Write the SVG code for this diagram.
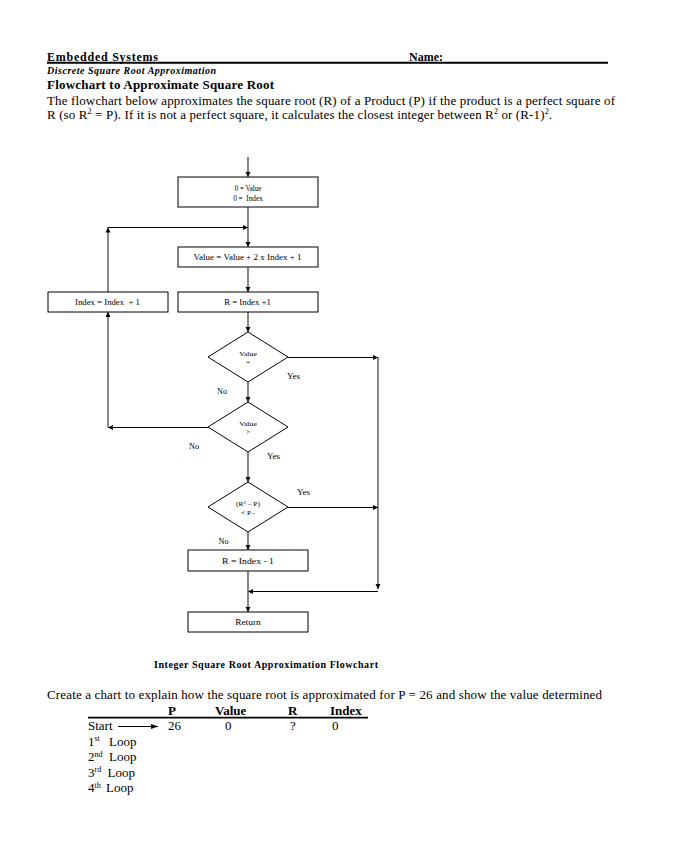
<svg xmlns="http://www.w3.org/2000/svg" width="681" height="851" viewBox="0 0 681 851">
<defs>
<style>
text{font-family:"Liberation Serif","Times New Roman",serif;fill:#000}
.b12{font-size:12px;font-weight:bold}
.t13{font-size:13px}
.b13{font-size:13px;font-weight:bold}
.bx{font-size:7.5px;text-anchor:middle}
.dm{font-size:6.5px;text-anchor:middle}
.lb{font-size:8px}
.box{fill:#fff;stroke:#000;stroke-width:1}
.cn{fill:none;stroke:#000;stroke-width:1}
.vc{fill:none;stroke:#555;stroke-width:1.4}
</style>
<marker id="ah" markerUnits="userSpaceOnUse" markerWidth="6" markerHeight="6" refX="5" refY="2.5" orient="auto">
<path d="M0,0 L5,2.5 L0,5 z" fill="#000"/>
</marker>
<marker id="ah2" markerUnits="userSpaceOnUse" markerWidth="8" markerHeight="6" refX="7" refY="2.5" orient="auto">
<path d="M0,0 L7,2.5 L0,5 z" fill="#000"/>
</marker>
</defs>
<rect width="681" height="851" fill="#fff"/>

<g id="header">
<text x="47" y="60.5" class="b12" textLength="111">Embedded Systems</text>
<text x="409" y="60.5" class="b12">Name:</text>
<line x1="47" y1="62.8" x2="608" y2="62.8" stroke="#000" stroke-width="2"/>
<text x="47" y="73.8" style="font-size:10px;font-weight:bold;font-style:italic" textLength="169">Discrete Square Root Approximation</text>
<text x="47" y="88.5" class="b13" textLength="227">Flowchart to Approximate Square Root</text>
<text x="47" y="104.5" class="t13" textLength="568">The flowchart below approximates the square root (R) of a Product (P) if the product is a perfect square of</text>
<text x="47" y="118.5" class="t13" textLength="505">R (so R<tspan dy="-5" font-size="8">2</tspan><tspan dy="5"> = P). If it is not a perfect square, it calculates the closest integer between R</tspan><tspan dy="-5" font-size="8">2</tspan><tspan dy="5"> or (R-1)</tspan><tspan dy="-5" font-size="8">2</tspan><tspan dy="5">.</tspan></text>
</g>

<g id="connectors">
<line class="vc" x1="248" y1="157" x2="248" y2="177" marker-end="url(#ah)"/>
<line class="vc" x1="248" y1="207" x2="248" y2="247" marker-end="url(#ah)"/>
<line class="vc" x1="108" y1="292" x2="108" y2="227.5" marker-end="url(#ah)"/>
<line class="cn" x1="108" y1="227.5" x2="248" y2="227.5" marker-end="url(#ah)"/>
<line class="vc" x1="248" y1="267" x2="248" y2="292" marker-end="url(#ah)"/>
<line class="vc" x1="248" y1="312" x2="248" y2="332" marker-end="url(#ah)"/>
<line class="cn" x1="288" y1="357.5" x2="378" y2="357.5" marker-end="url(#ah)"/>
<line class="vc" x1="378" y1="357" x2="378" y2="589" marker-end="url(#ah)"/>
<line class="cn" x1="378" y1="591.5" x2="248" y2="591.5" marker-end="url(#ah)"/>
<line class="vc" x1="248" y1="382" x2="248" y2="402" marker-end="url(#ah)"/>
<line class="cn" x1="208" y1="427.5" x2="108" y2="427.5" marker-end="url(#ah)"/>
<line class="vc" x1="108" y1="427" x2="108" y2="312" marker-end="url(#ah)"/>
<line class="vc" x1="248" y1="452" x2="248" y2="482" marker-end="url(#ah)"/>
<line class="cn" x1="288" y1="507.5" x2="378" y2="507.5" marker-end="url(#ah)"/>
<line class="vc" x1="248" y1="532" x2="248" y2="550" marker-end="url(#ah)"/>
<line class="vc" x1="248" y1="571" x2="248" y2="612" marker-end="url(#ah)"/>
</g>

<g id="labels">
<text x="287" y="378.5" class="lb" textLength="13" lengthAdjust="spacingAndGlyphs">Yes</text>
<text x="217" y="394" class="lb" textLength="10" lengthAdjust="spacingAndGlyphs">No</text>
<text x="189" y="448.5" class="lb" textLength="10" lengthAdjust="spacingAndGlyphs">No</text>
<text x="267" y="458.5" class="lb" textLength="13" lengthAdjust="spacingAndGlyphs">Yes</text>
<text x="297" y="495" class="lb" textLength="13" lengthAdjust="spacingAndGlyphs">Yes</text>
<text x="218.5" y="543.5" class="lb" textLength="10" lengthAdjust="spacingAndGlyphs">No</text>
</g>

<g id="n-init">
<rect class="box" x="178" y="177" width="140" height="30"/>
<text x="248" y="191" class="bx" textLength="26.7" lengthAdjust="spacingAndGlyphs">0 = Value</text>
<text x="248" y="201" class="bx" textLength="29.7" lengthAdjust="spacingAndGlyphs" xml:space="preserve">0 =  Index</text>
</g>
<g id="n-value">
<rect class="box" x="178" y="247" width="140" height="20"/>
<text x="247.5" y="259.6" class="bx" textLength="108" lengthAdjust="spacingAndGlyphs">Value = Value + 2 x Index + 1</text>
</g>
<g id="n-index">
<rect class="box" x="48" y="292" width="120" height="20"/>
<text x="107.5" y="304.7" class="bx" textLength="65" lengthAdjust="spacingAndGlyphs" xml:space="preserve">Index = Index  + 1</text>
</g>
<g id="n-r1">
<rect class="box" x="178" y="292" width="140" height="20"/>
<text x="247.5" y="304.7" class="bx" textLength="46.7" lengthAdjust="spacingAndGlyphs">R = Index +1</text>
</g>
<g id="n-d1">
<polygon class="box" points="248,332 288,357 248,382 208,357"/>
<text x="248" y="355.5" class="dm" textLength="17.7" lengthAdjust="spacingAndGlyphs">Value</text>
<text x="248" y="364" class="dm">=</text>
</g>
<g id="n-d2">
<polygon class="box" points="248,402 288,427 248,452 208,427"/>
<text x="248" y="425.5" class="dm" textLength="17.7" lengthAdjust="spacingAndGlyphs">Value</text>
<text x="248" y="434" class="dm">&gt;</text>
</g>
<g id="n-d3">
<polygon class="box" points="248,482 288,507 248,532 208,507"/>
<text x="248" y="506" class="dm" style="font-size:6px" textLength="24" lengthAdjust="spacingAndGlyphs">(R<tspan dy="-2.5" font-size="4">2</tspan><tspan dy="2.5"> – P)</tspan></text>
<text x="248" y="515" class="dm" style="font-size:6px" textLength="14" lengthAdjust="spacingAndGlyphs">&lt; P -</text>
</g>
<g id="n-r2">
<rect class="box" x="188" y="550" width="120" height="21"/>
<text x="248" y="563.5" class="bx" textLength="52" lengthAdjust="spacingAndGlyphs">R = Index - 1</text>
</g>
<g id="n-return">
<rect class="box" x="188" y="612" width="120" height="20"/>
<text x="248" y="624.8" class="bx" textLength="25.7" lengthAdjust="spacingAndGlyphs">Return</text>
</g>

<g id="bottom">
<text x="154" y="668" style="font-size:10px;font-weight:bold" textLength="224">Integer Square Root Approximation Flowchart</text>
<text x="47" y="699" class="t13" textLength="555">Create a chart to explain how the square root is approximated for P = 26 and show the value determined</text>
<text x="168" y="714.5" class="b13">P</text>
<text x="215" y="714.5" class="b13">Value</text>
<text x="288" y="714.5" class="b13">R</text>
<text x="330" y="714.5" class="b13">Index</text>
<line x1="88" y1="717.6" x2="368" y2="717.6" stroke="#000" stroke-width="1.8"/>
<text x="88" y="730" class="t13">Start</text>
<line x1="118" y1="726.5" x2="158" y2="726.5" stroke="#000" stroke-width="1" marker-end="url(#ah2)"/>
<text x="168" y="730" class="t13">26</text>
<text x="225" y="730" class="t13">0</text>
<text x="290" y="730" class="t13">?</text>
<text x="332" y="730" class="t13">0</text>
<text x="88" y="745.5" class="t13">1<tspan dy="-4.5" font-size="8">st</tspan><tspan x="109" dy="4.5">Loop</tspan></text>
<text x="88" y="761" class="t13">2<tspan dy="-4.5" font-size="8">nd</tspan><tspan x="109" dy="4.5">Loop</tspan></text>
<text x="88" y="776.5" class="t13">3<tspan dy="-4.5" font-size="8">rd</tspan><tspan x="107.5" dy="4.5">Loop</tspan></text>
<text x="88" y="792" class="t13">4<tspan dy="-4.5" font-size="8">th</tspan><tspan x="106" dy="4.5">Loop</tspan></text>
</g>
</svg>
